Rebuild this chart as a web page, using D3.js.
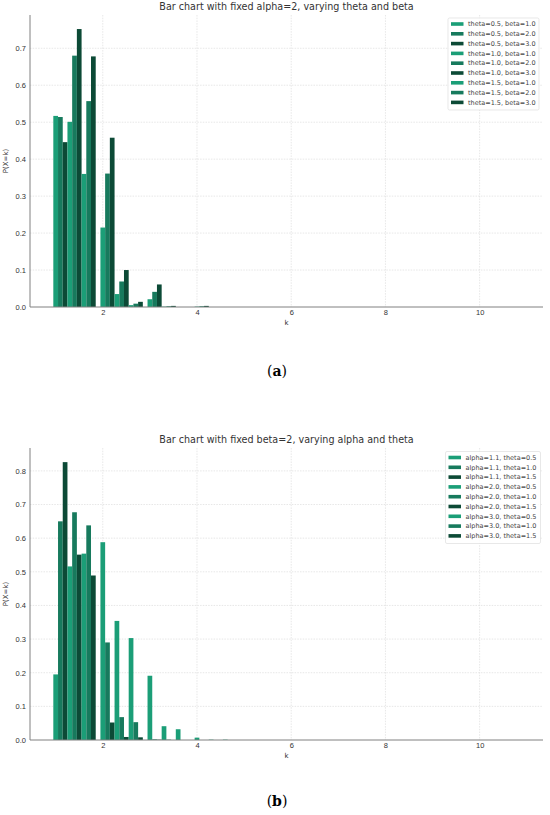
<!DOCTYPE html>
<html>
<head>
  <style>
  body { margin: 0; background: #fff; }
  svg { display: block; font-family: "DejaVu Sans", sans-serif; }
  .grid line { stroke: #dcdcdc; stroke-width: 0.7px; stroke-dasharray: 1.5,1.2; }
  .axis .domain { stroke: #808080; stroke-width: 1px; }
  .axis .tick line { display: none; }
  .axis .tick text { fill: #333; font-size: 7.5px; }
  .title { fill: #333; font-size: 9.6px; text-anchor: middle; }
  .lab { fill: #333; font-size: 7px; text-anchor: middle; }
  .legend text { fill: #444; font-size: 6.5px; }
  .cap { font-family: "DejaVu Serif", "Liberation Serif", serif; font-size: 14px; text-anchor: middle; fill: #000; }
  </style>
</head>
<body>
  <div id="chart"></div>
  <script src="https://d3js.org/d3.v7.min.js"></script>
  <script>
  var ks = [1, 2, 3, 4, 5, 6, 7, 8, 9, 10];
  var shades = ["#1b9e77", "#177a5d", "#0c4a36"];

  // panel (a): fixed alpha=2
  var labelsA = ["theta=0.5, beta=1.0", "theta=0.5, beta=2.0", "theta=0.5, beta=3.0",
                 "theta=1.0, beta=1.0", "theta=1.0, beta=2.0", "theta=1.0, beta=3.0",
                 "theta=1.5, beta=1.0", "theta=1.5, beta=2.0", "theta=1.5, beta=3.0"];
  var valuesA = [
    [0.517, 0.215, 0.021, 0.001, 0, 0, 0, 0, 0, 0],
    [0.514, 0.361, 0.041, 0.002, 0, 0, 0, 0, 0, 0],
    [0.446, 0.458, 0.061, 0.003, 0, 0, 0, 0, 0, 0],
    [0.501, 0.035, 0.001, 0, 0, 0, 0, 0, 0, 0],
    [0.680, 0.069, 0.002, 0, 0, 0, 0, 0, 0, 0],
    [0.752, 0.100, 0.003, 0, 0, 0, 0, 0, 0, 0],
    [0.360, 0.005, 0, 0, 0, 0, 0, 0, 0, 0],
    [0.557, 0.009, 0, 0, 0, 0, 0, 0, 0, 0],
    [0.678, 0.014, 0, 0, 0, 0, 0, 0, 0, 0]
  ];
  var yTicksA = [0, 0.1, 0.2, 0.3, 0.4, 0.5, 0.6, 0.7];

  // panel (b): fixed beta=2
  var labelsB = ["alpha=1.1, theta=0.5", "alpha=1.1, theta=1.0", "alpha=1.1, theta=1.5",
                 "alpha=2.0, theta=0.5", "alpha=2.0, theta=1.0", "alpha=2.0, theta=1.5",
                 "alpha=3.0, theta=0.5", "alpha=3.0, theta=1.0", "alpha=3.0, theta=1.5"];
  var valuesB = [
    [0.195, 0.588, 0.191, 0.007, 0, 0, 0, 0, 0, 0],
    [0.650, 0.290, 0.002, 0, 0, 0, 0, 0, 0, 0],
    [0.826, 0.052, 0.001, 0, 0, 0, 0, 0, 0, 0],
    [0.516, 0.354, 0.041, 0.001, 0, 0, 0, 0, 0, 0],
    [0.677, 0.068, 0.001, 0, 0, 0, 0, 0, 0, 0],
    [0.551, 0.009, 0, 0, 0, 0, 0, 0, 0, 0],
    [0.554, 0.303, 0.032, 0.001, 0, 0, 0, 0, 0, 0],
    [0.638, 0.053, 0, 0, 0, 0, 0, 0, 0, 0],
    [0.489, 0.008, 0, 0, 0, 0, 0, 0, 0, 0]
  ];
  var yTicksB = [0, 0.1, 0.2, 0.3, 0.4, 0.5, 0.6, 0.7, 0.8];

  var xTicks = [2, 4, 6, 8, 10];
  var barW = 0.1;

  var svg = d3.select("#chart").append("svg")
      .attr("width", 550)
      .attr("height", 815);

  function panel(opt) {
    var g = svg.append("g");
    var x = d3.scaleLinear().domain([0.455, 11.345]).range([30, 543]);
    var y = d3.scaleLinear().domain([0, opt.ymax]).range([opt.bottom, opt.top]);

    // grid
    var grid = g.append("g").attr("class", "grid");
    grid.selectAll("line.h")
        .data(opt.yTicks.slice(1))
      .enter().append("line")
        .attr("x1", 30).attr("x2", 543)
        .attr("y1", function(d){ return y(d); })
        .attr("y2", function(d){ return y(d); });
    grid.selectAll("line.v")
        .data(xTicks)
      .enter().append("line")
        .attr("x1", function(d){ return x(d); })
        .attr("x2", function(d){ return x(d); })
        .attr("y1", opt.top).attr("y2", opt.bottom);

    // bars
    opt.values.forEach(function(vals, i) {
      g.append("g").selectAll("rect")
          .data(ks.map(function(k, j){ return {k: k, v: vals[j]}; }))
        .enter().append("rect")
          .attr("x", function(d){ return x(d.k + i * barW - barW / 2); })
          .attr("width", x(barW) - x(0))
          .attr("y", function(d){ return y(d.v); })
          .attr("height", function(d){ return y(0) - y(d.v); })
          .style("fill", shades[i % 3]);
    });

    // axes
    g.append("g")
        .attr("class", "axis")
        .attr("transform", "translate(0," + opt.bottom + ")")
        .call(d3.axisBottom(x).tickValues(xTicks).tickSize(0).tickPadding(3).tickFormat(d3.format("d")))
        .call(function(a){ a.select(".domain").attr("d", "M30,0H543"); });

    g.append("g")
        .attr("class", "axis")
        .attr("transform", "translate(30,0)")
        .call(d3.axisLeft(y).tickValues(opt.yTicks).tickSize(0).tickPadding(4).tickFormat(d3.format(".1f")))
        .call(function(a){ a.select(".domain").attr("d", "M0," + opt.top + "V" + opt.bottom); });

    g.append("text")
        .attr("class", "lab")
        .attr("x", 286.5)
        .attr("y", opt.bottom + 18)
        .text("k");

    g.append("text")
        .attr("class", "lab")
        .attr("transform", "translate(8," + ((opt.top + opt.bottom) / 2) + ") rotate(-90)")
        .text("P(X=k)");

    g.append("text")
        .attr("class", "title")
        .attr("x", 286.5)
        .attr("y", opt.top - 5)
        .text(opt.title);

    // legend
    var lg = g.append("g")
        .attr("class", "legend")
        .attr("transform", "translate(" + opt.legX + "," + opt.legY + ")");
    lg.append("rect")
        .attr("width", opt.legW)
        .attr("height", 92)
        .attr("rx", 1.5)
        .style("fill", "#fff")
        .style("fill-opacity", 0.85)
        .style("stroke", "#dedede")
        .style("stroke-width", 0.7);
    var row = lg.selectAll("g.row")
        .data(opt.labels)
      .enter().append("g")
        .attr("transform", function(d, i){ return "translate(0," + (6 + i * 9.8) + ")"; });
    row.append("rect")
        .attr("x", 3)
        .attr("y", -1.8)
        .attr("width", 12.5)
        .attr("height", 3.6)
        .style("fill", function(d, i){ return shades[i % 3]; });
    row.append("text")
        .attr("x", opt.legText)
        .attr("dy", "0.35em")
        .text(function(d){ return d; });

    svg.append("text")
        .attr("class", "cap")
        .attr("x", 277)
        .attr("y", opt.capY)
        .html("(<tspan font-weight='bold'>" + opt.cap + "</tspan>)");
  }

  panel({
    title: "Bar chart with fixed alpha=2, varying theta and beta",
    values: valuesA, labels: labelsA, yTicks: yTicksA,
    top: 15, bottom: 307, ymax: 0.79,
    legX: 448, legY: 18, legW: 91, legText: 20,
    cap: "a", capY: 376
  });

  panel({
    title: "Bar chart with fixed beta=2, varying alpha and theta",
    values: valuesB, labels: labelsB, yTicks: yTicksB,
    top: 448, bottom: 740, ymax: 0.868,
    legX: 445.5, legY: 451.5, legW: 95, legText: 20,
    cap: "b", capY: 806
  });
  </script>
</body>
</html>
